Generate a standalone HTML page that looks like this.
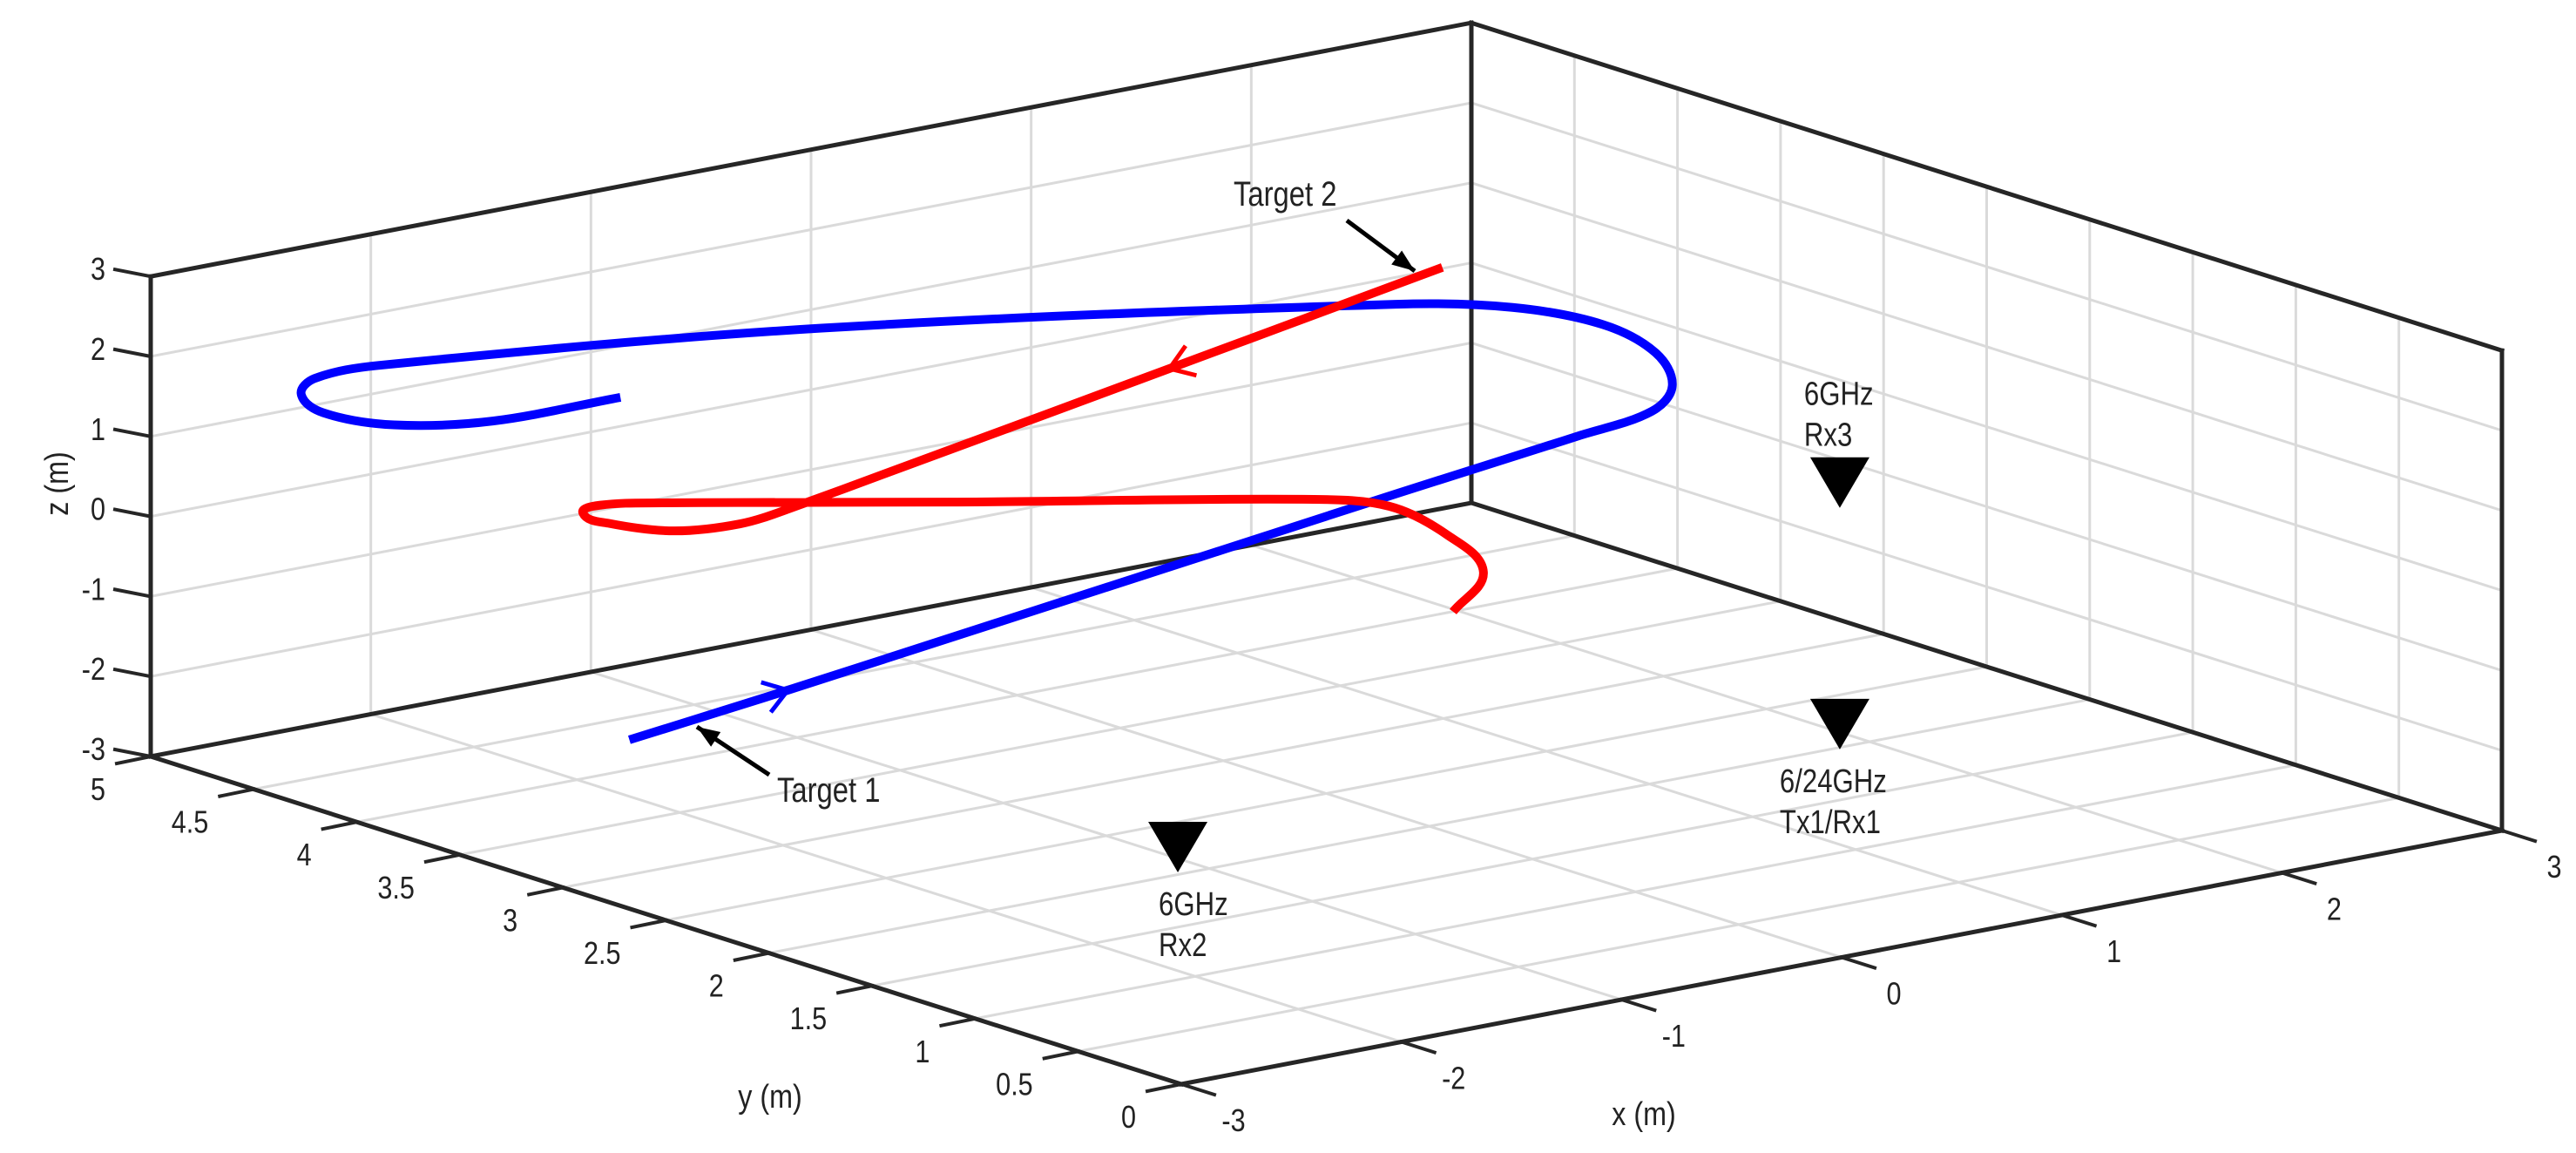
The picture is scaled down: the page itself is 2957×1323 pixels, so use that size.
<!DOCTYPE html>
<html><head><meta charset="utf-8"><style>
html,body{margin:0;padding:0;background:#fff;}
svg{display:block;}
text{font-family:"Liberation Sans",Arial,sans-serif;fill:#222;}
</style></head><body>
<svg id="chart" width="2957" height="1323" viewBox="0 0 2957 1323" xmlns="http://www.w3.org/2000/svg">
<g id="grid"></g>
<g id="box"></g>
<g id="ticks"></g>
<g id="series"></g>
<g id="annot"></g>
</svg>
<script>
// ---- data ----
const xTicks = [-3,-2,-1,0,1,2,3];
const yTicks = [0,0.5,1,1.5,2,2.5,3,3.5,4,4.5,5];
const zTicks = [-3,-2,-1,0,1,2,3];
const yTickLabels = ["0","0.5","1","1.5","2","2.5","3","3.5","4","4.5","5"];
const target1X = [-2.23,-1.51,1.01,1.85,2.18,2.04,1.73,1.49,1.08,0.55,-0.42,-2.20,-2.49,-2.55,-2.45,-2.13,-1.68,-1.10];
const target1Y = [3.5,3.5,3.25,3.25,3.25,3.0,2.75,2.75,2.75,2.75,4.5,4.75,4.75,4.75,4.75,4.75,4.75,4.75];
const target1Z = [-1.97,-1.73,-0.41,-0.12,0.01,0.61,1.39,1.87,2.30,2.62,1.40,1.67,1.66,1.49,1.21,0.89,0.70,0.69];
const target2X = [2.40,1.16,-0.57,-0.79,-1.09,-1.15,-1.27,-1.19,-0.91,0.435,2.05,2.16,1.95,1.65,0.81];
const target2Y = [4.5,4.5,4.5,4.5,4.5,4.75,4.75,4.75,4.75,4.75,4.75,4.5,4.0,3.5,2.75];
const target2Z = [0.67,0.06,-0.78,-0.85,-0.78,-0.86,-0.67,-0.61,-0.73,-1.43,-2.25,-2.19,-2.02,-1.92,-1.36];
const sensorNames = ["rx2","tx1-rx1","rx3"];
const sensorX = [-0.89,2.08,2.08];
const sensorY = [2.27,2.23,2.23];
const sensorZ = [-3,-3,0.02];
const sensorLabel1 = ["6GHz","6/24GHz","6GHz"];
const sensorLabel2 = ["Rx2","Tx1/Rx1","Rx3"];

// ---- projection ----
const B0=[1356,1244], XV=[1516,-291], YV=[-1183,-376], ZU=91.8;
function P(x,y,z){const s=(x+3)/6,t=y/5;return [B0[0]+s*XV[0]+t*YV[0], B0[1]+s*XV[1]+t*YV[1]-(z+3)*ZU];}
const NS="http://www.w3.org/2000/svg";
function mk(tag,attrs,parent){const e=document.createElementNS(NS,tag);for(const k in attrs)e.setAttribute(k,attrs[k]);parent.appendChild(e);return e;}
function line(p,q,stroke,w,parent){return mk('line',{x1:p[0],y1:p[1],x2:q[0],y2:q[1],stroke:stroke,'stroke-width':w,'stroke-linecap':'square'},parent);}
function txt(s,x,y,size,anchor,parent,sx){const e=mk('text',{transform:`translate(${x},${y}) scale(${sx||0.82},1)`,'font-size':size,'text-anchor':anchor||'start'},parent);e.textContent=s;return e;}

const G=document.getElementById('grid'),BX=document.getElementById('box'),TK=document.getElementById('ticks'),SR=document.getElementById('series'),AN=document.getElementById('annot');
const gc='#dadada',gw=3;
xTicks.slice(1,-1).forEach(x=>{const l=line(P(x,5,-3),P(x,5,3),gc,gw,G);});
zTicks.slice(1,-1).forEach(z=>{const l=line(P(-3,5,z),P(3,5,z),gc,gw,G);});
yTicks.slice(1,-1).forEach(y=>{const l=line(P(3,y,-3),P(3,y,3),gc,gw,G);});
zTicks.slice(1,-1).forEach(z=>{const l=line(P(3,0,z),P(3,5,z),gc,gw,G);});
xTicks.slice(1,-1).forEach(x=>{const l=line(P(x,0,-3),P(x,5,-3),gc,gw,G);});
yTicks.slice(1,-1).forEach(y=>{const l=line(P(-3,y,-3),P(3,y,-3),gc,gw,G);});

const bc='#262626',bw=5;
[[[-3,5,-3],[-3,5,3]],[[-3,5,3],[3,5,3]],[[3,5,3],[3,0,3]],[[3,5,-3],[3,5,3]],[[3,0,-3],[3,0,3]],
 [[-3,5,-3],[3,5,-3]],[[3,5,-3],[3,0,-3]],[[-3,0,-3],[3,0,-3]],[[-3,0,-3],[-3,5,-3]]].forEach(e=>{
  const l=line(P(...e[0]),P(...e[1]),bc,bw,BX);
  
  
});

zTicks.forEach(z=>{const p=P(-3,5,z);const l=line(p,[p[0]-41,p[1]-8],bc,4,TK);
  const t=txt(String(z),p[0]-52,p[1]+4,36,'end',TK,0.85);});
yTicks.forEach((y,i)=>{const p=P(-3,y,-3);const l=line(p,[p[0]-39,p[1]+8],bc,4,TK);
  const t=txt(yTickLabels[i],p[0]-52,p[1]+50,36,'end',TK,0.85);});
xTicks.forEach(x=>{const p=P(x,0,-3);const l=line(p,[p[0]+38,p[1]+12],bc,4,TK);
  const t=txt(String(x),p[0]+60,p[1]+54,36,'middle',TK,0.85);});
let t;
t=txt('x (m)',1887,1291,38,'middle',TK,0.85);
t=txt('y (m)',884,1271,38,'middle',TK,0.85);
t=mk('text',{transform:'translate(78,555) rotate(-90) scale(0.85,1)','font-size':38,'text-anchor':'middle'},TK);t.textContent='z (m)';


function smooth(pts){let d=`M${pts[0][0]},${pts[0][1]}`;for(let i=0;i<pts.length-1;i++){const p0=pts[Math.max(0,i-1)],p1=pts[i],p2=pts[i+1],p3=pts[Math.min(pts.length-1,i+2)];
  const d12=Math.hypot(p2[0]-p1[0],p2[1]-p1[1]);
  const d01=Math.hypot(p2[0]-p0[0],p2[1]-p0[1])||1, d23=Math.hypot(p3[0]-p1[0],p3[1]-p1[1])||1;
  const k1=d12/d01/3, k2=d12/d23/3;
  const c1=[p1[0]+(p2[0]-p0[0])*k1,p1[1]+(p2[1]-p0[1])*k1],c2=[p2[0]-(p3[0]-p1[0])*k2,p2[1]-(p3[1]-p1[1])*k2];d+=` C${c1[0]},${c1[1]} ${c2[0]},${c2[1]} ${p2[0]},${p2[1]}`;}return d;}
function drawSeries(X,Y,Z,color,name){
  const pts=X.map((x,i)=>P(x,Y[i],Z[i]));
  const path=mk('path',{d:smooth(pts),fill:'none',stroke:color,'stroke-width':10,'stroke-linecap':'butt','stroke-linejoin':'round'},SR);
  
  
  const a=pts[1],b=pts[2];const L=Math.hypot(b[0]-a[0],b[1]-a[1]);const ux=(b[0]-a[0])/L,uy=(b[1]-a[1])/L;
  const ang=0.6,len=32;
  const w1=[a[0]-len*(ux*Math.cos(ang)-uy*Math.sin(ang)),a[1]-len*(uy*Math.cos(ang)+ux*Math.sin(ang))];
  const w2=[a[0]-len*(ux*Math.cos(ang)+uy*Math.sin(ang)),a[1]-len*(uy*Math.cos(ang)-ux*Math.sin(ang))];
  const ch=mk('polyline',{points:`${w1} ${a} ${w2}`,fill:'none',stroke:color,'stroke-width':5},SR);
  
  
}
drawSeries(target1X,target1Y,target1Z,'#0000ff','target-1-trajectory');
drawSeries(target2X,target2Y,target2Z,'#ff0000','target-2-trajectory');

sensorNames.forEach((n,i)=>{const p=P(sensorX[i],sensorY[i],sensorZ[i]);
  const tri=mk('polygon',{points:`${p[0]-34},${p[1]-28} ${p[0]+34},${p[1]-28} ${p[0]},${p[1]+30}`,fill:'#000'},AN);
  
  
  const above=(i===2);
  const lx = i===0 ? p[0]-22 : (i===1 ? p[0]-69 : p[0]-41);
  const y1 = above ? p[1]-88 : p[1]+79, y2 = above ? p[1]-41 : p[1]+126;
  let a=txt(sensorLabel1[i],lx,y1,38,'start',AN,0.82);
  let b=txt(sensorLabel2[i],lx,y2,38,'start',AN,0.82);
});

function callout(tail,head,label,lx,ly,name){
  const l=line(tail,head,'#000',5,AN);l.setAttribute('stroke-linecap','butt');
  
  
  const L=Math.hypot(head[0]-tail[0],head[1]-tail[1]);const ux=(head[0]-tail[0])/L,uy=(head[1]-tail[1])/L;
  const bx=head[0]-ux*26,by=head[1]-uy*26;
  const h=mk('polygon',{points:`${head[0]},${head[1]} ${bx-uy*10},${by+ux*10} ${bx+uy*10},${by-ux*10}`,fill:'#000'},AN);
  
  
  const tt=txt(label,lx,ly,40,'start',AN,0.82);
  
  
}
callout([883,889],[800,834],'Target 1',892,920,'target-1');
callout([1546,253],[1624,311],'Target 2',1416,236,'target-2');
</script>
</body></html>
